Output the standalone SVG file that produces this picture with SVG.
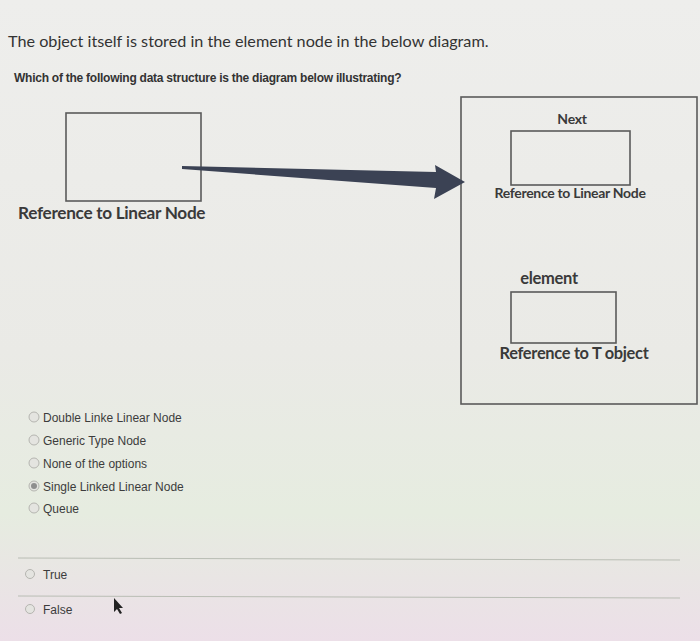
<svg xmlns="http://www.w3.org/2000/svg" width="700" height="641" viewBox="0 0 700 641">
<defs>
<linearGradient id="bg" x1="0" y1="0" x2="0" y2="1">
<stop offset="0" stop-color="#eeeeec"/>
<stop offset="0.55" stop-color="#eaeae6"/>
<stop offset="0.8" stop-color="#e6ece0"/>
<stop offset="1" stop-color="#ecdfe8"/>
</linearGradient>
<style>
.box{fill:none;stroke:#5a5a5a;stroke-width:1.6}
.lato{font-family:Lato,"Liberation Sans",sans-serif;font-weight:bold;fill:#3a3a3a;letter-spacing:-0.3px}
.opt{font-family:"Liberation Sans",Arial,sans-serif;font-size:12px;fill:#3c3c3c}
.radio{fill:#e4e4e0;stroke:#b5b5b0;stroke-width:1}
.sep{stroke:#b9bdb4;stroke-width:1}
</style>
</defs>
<rect width="700" height="641" fill="url(#bg)"/>
<text x="8" y="47" font-family="Lato,'Liberation Sans',sans-serif" font-size="16.2" fill="#333">The object itself is stored in the element node in the below diagram.</text>
<text x="14" y="82" font-family="'Liberation Sans',Arial,sans-serif" font-size="12" font-weight="bold" fill="#333" letter-spacing="-0.25">Which of the following data structure is the diagram below illustrating?</text>
<g id="node-ref">
<rect class="box" x="66" y="113" width="135" height="88"/>
<text class="lato" x="18" y="219" font-size="17.2">Reference to Linear Node</text>
</g>
<g id="node-linear">
<rect class="box" x="461" y="97" width="236" height="307"/>
<text class="lato" x="572" y="124" font-size="14" text-anchor="middle">Next</text>
<rect class="box" x="511" y="131" width="119" height="54"/>
<text class="lato" x="570" y="198" font-size="14" text-anchor="middle">Reference to Linear Node</text>
<text class="lato" x="549" y="284" font-size="16.5" text-anchor="middle">element</text>
<rect class="box" x="511" y="292" width="105" height="51"/>
<text class="lato" x="574" y="359" font-size="16.4" text-anchor="middle">Reference to T object</text>
</g>
<g id="connectors">
<polygon points="182,166 436,172 435,165 465,182 434,199 436,188 182,169" fill="#3b4254"/>
</g>
<g id="options">
<circle class="radio" cx="34" cy="417" r="5"/>
<text class="opt" x="43" y="422">Double Linke Linear Node</text>
<circle class="radio" cx="34" cy="440" r="5"/>
<text class="opt" x="43" y="445">Generic Type Node</text>
<circle class="radio" cx="34" cy="463" r="5"/>
<text class="opt" x="43" y="468">None of the options</text>
<circle class="radio" cx="34" cy="486" r="5" fill="#a9a9a9"/>
<circle cx="34" cy="486" r="3" fill="#8e8e8e"/>
<text class="opt" x="43" y="491">Single Linked Linear Node</text>
<circle class="radio" cx="34" cy="508" r="5"/>
<text class="opt" x="43" y="513">Queue</text>
</g>
<line class="sep" x1="18" y1="558" x2="680" y2="560"/>
<line class="sep" x1="18" y1="596" x2="680" y2="598"/>
<g id="tf">
<circle class="radio" cx="30" cy="574" r="4.5"/>
<text class="opt" x="43" y="579" font-family="Lato,'Liberation Sans',sans-serif">True</text>
<circle class="radio" cx="30" cy="609" r="4.5"/>
<text class="opt" x="43" y="614" font-family="Lato,'Liberation Sans',sans-serif">False</text>
</g>
<polygon points="114,598 114,612 117,609 120,614 122,613 119,608 123,608" fill="#222"/>
</svg>
